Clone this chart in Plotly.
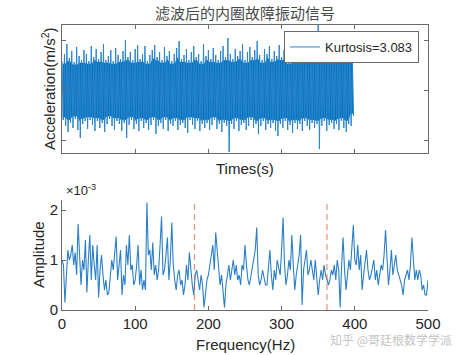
import plotly.graph_objects as go

# ---------------- data ----------------
# Top: filtered inner-race fault vibration signal, read as an envelope
# (upper peak / lower trough per short time slice), 0..4 s
sig_upper = [
    2.9, 3.6, 4.6, 3.2, 3.9, 2.8, 4.3, 3.4, 3.0, 4.0,
    3.6, 2.9, 4.4, 3.3, 4.1, 3.1, 3.8, 4.6, 3.0, 3.4,
    4.0, 2.9, 4.2, 3.5, 3.1, 3.9, 5.0, 3.3, 3.8, 3.0,
    4.1, 4.5, 3.1, 3.6, 4.4, 2.9, 3.5, 4.0, 4.5, 3.3,
    3.8, 3.0, 4.3, 3.4, 3.9, 2.9, 3.6, 4.2, 4.9, 3.1,
    3.5, 4.1, 3.0, 3.8, 4.4, 3.3, 3.6, 2.9, 4.6, 3.4,
    4.0, 3.1, 4.2, 3.5, 3.0, 3.9, 4.4, 3.3, 5.2, 3.6,
    3.1, 4.1, 3.4, 3.9, 4.6, 3.0, 3.8, 4.3, 3.3, 4.0,
    4.9, 3.5, 3.0, 4.1, 3.6, 4.4, 3.1, 3.9, 3.4, 4.5,
    3.3, 4.0, 3.6, 2.9, 4.2, 3.4, 3.9, 4.3, 3.1, 3.8,
    4.1, 3.3, 4.4, 3.6, 3.4, 6.6, 3.8, 3.1, 4.2, 3.5,
    4.0, 3.3, 3.9, 4.2, 3.4, 4.1, 3.6, 3.3, 4.0, 3.0,
]
sig_lower = [
    -3.0, -3.6, -4.2, -3.3, -3.8, -2.9, -4.0, -4.8, -3.4, -3.1,
    -3.9, -3.0, -3.5, -4.1, -3.1, -3.8, -3.3, -4.2, -3.4, -2.9,
    -3.6, -4.0, -3.1, -3.4, -4.1, -3.3, -4.8, -3.5, -3.0, -3.9,
    -3.4, -4.1, -3.1, -3.8, -3.3, -4.0, -3.5, -3.0, -4.4, -3.6,
    -3.3, -3.9, -3.0, -4.1, -3.4, -3.6, -3.1, -4.0, -3.5, -3.3,
    -3.8, -4.3, -3.0, -3.5, -3.9, -3.1, -4.1, -3.4, -3.8, -3.3,
    -4.0, -3.5, -3.0, -3.9, -3.4, -4.2, -3.3, -3.6, -6.2, -3.4,
    -3.9, -3.1, -4.1, -3.5, -3.3, -4.0, -3.6, -3.0, -3.8, -3.4,
    -4.4, -3.6, -3.1, -4.0, -3.4, -3.8, -3.3, -4.1, -4.6, -3.4,
    -3.8, -3.1, -4.0, -3.5, -4.3, -3.3, -3.9, -3.4, -4.1, -3.1,
    -3.6, -4.0, -3.3, -3.8, -3.4, -5.9, -3.6, -3.1, -4.1, -3.5,
    -3.3, -3.9, -3.4, -4.0, -3.1, -3.8, -4.2, -3.4, -3.6, -2.6,
]
sig_duration = 4.0          # seconds of signal shown
kurtosis_label = "Kurtosis=3.083"

# Bottom: envelope spectrum amplitude (x 1e-3), 0..500 Hz every 2 Hz
amp_e3 = [
    1.0, 0.9, 0.15, 0.8, 1.2, 1.0, 1.1, 1.3, 0.9, 1.15,
    0.7, 1.72, 0.9, 0.5, 1.0, 0.8, 1.4, 0.35, 1.0, 1.5,
    0.6, 1.3, 0.9, 0.6, 1.3, 0.25, 0.8, 1.1, 0.7, 0.4,
    0.6, 0.3, 0.35, 0.7, 1.0, 0.8, 1.1, 1.47, 0.6, 1.0,
    1.2, 0.3, 0.7, 0.5, 1.3, 0.9, 1.5, 0.8, 0.9, 0.5,
    0.6, 0.9, 1.3, 0.5, 0.8, 0.4, 0.6, 0.4, 2.15, 1.1,
    1.2, 0.8, 1.35, 0.7, 0.9, 0.6, 0.8, 1.3, 1.87, 0.7,
    0.8, 1.1, 1.45, 0.6, 1.0, 1.75, 0.9, 0.6, 0.4, 0.7,
    0.8, 0.5, 0.6, 0.3, 0.5, 0.9, 0.6, 1.15, 0.8, 0.5,
    0.3, 0.7, 0.8, 0.6, 0.4, 0.7, 0.5, 0.05, 0.4, 0.6,
    0.7, 0.9, 1.0, 1.3, 0.8, 1.55, 1.2, 0.8, 0.5, 0.7,
    0.3, 0.05, 0.5, 0.7, 0.9, 0.6, 0.8, 1.0, 0.7, 0.9,
    0.6, 0.7, 0.5, 0.9, 0.8, 1.3, 0.9, 0.6, 0.5, 0.7,
    0.8, 1.0, 1.2, 1.65, 0.7, 0.5, 0.6, 0.8, 0.6, 0.5,
    0.5, 0.8, 1.2, 0.7, 0.4, 0.8, 0.6, 1.0, 0.8, 0.7,
    1.2, 1.85, 0.9, 0.5, 0.7, 1.0, 0.8, 1.5, 0.9, 0.4,
    0.7, 0.9, 1.1, 1.5, 0.1, 0.8, 1.0, 1.2, 0.7, 0.8,
    1.0, 0.8, 0.6, 1.0, 0.7, 0.3, 0.6, 0.8, 0.6, 0.9,
    0.7, 0.6, 0.5, 0.6, 0.8, 0.7, 0.9, 0.6, 1.0, 0.8,
    0.05, 0.9, 1.45, 0.8, 0.4, 0.7, 1.0, 0.8, 1.3, 1.7,
    1.0, 0.9, 1.3, 0.8, 1.1, 0.4, 0.7, 0.9, 1.2, 0.8,
    0.6, 0.7, 0.9, 1.0, 0.6, 0.8, 0.5, 0.7, 0.9, 0.8,
    1.1, 1.6, 0.9, 0.5, 0.8, 1.2, 0.7, 0.9, 1.1, 0.8,
    0.7, 0.6, 0.5, 0.3, 0.6, 0.7, 0.8, 0.6, 0.9, 1.45,
    0.9, 0.6, 0.8, 0.6, 0.8, 0.7, 0.4, 0.5, 0.3, 0.3,
    0.6,
]
freq_step = 2.0
fault_freqs = [181, 362]      # BPFI and 2x BPFI (dashed markers)
freq_ticks = [0, 100, 200, 300, 400, 500]
amp_ticks = [0, 1, 2]

# ---------------- build traces ----------------
n = len(sig_upper)
dt = sig_duration / n
t_vals, a_vals = [], []
for i in range(n):
    t_vals += [i * dt, i * dt + dt / 2]
    a_vals += [sig_upper[i], sig_lower[i]]

# dense core of the band: the smaller of neighbouring peaks (drawn as a fill)
core_t, core_up, core_lo = [], [], []
for i in range(n):
    nb = range(max(0, i - 1), min(n, i + 2))
    core_t.append(i * dt + dt / 4)
    core_up.append(0.9 * min(sig_upper[j] for j in nb))
    core_lo.append(0.9 * max(sig_lower[j] for j in nb))

freqs = [i * freq_step for i in range(len(amp_e3))]

BLUE = "#0072BD"
SPIKE = "#2a84cc"
AXC = "#6b6b6b"
TXT = "#262626"
FONT = "Liberation Sans, Arial, sans-serif"

fig = go.Figure()
fig.add_trace(go.Scatter(x=core_t, y=core_up, mode="lines",
                         line=dict(color=BLUE, width=0.5),
                         showlegend=False, hoverinfo="skip",
                         xaxis="x", yaxis="y"))
fig.add_trace(go.Scatter(x=core_t, y=core_lo, mode="lines",
                         line=dict(color=BLUE, width=0.5), fill="tonexty",
                         fillcolor=BLUE, showlegend=False, hoverinfo="skip",
                         xaxis="x", yaxis="y"))
fig.add_trace(go.Scatter(x=t_vals, y=a_vals, mode="lines",
                         line=dict(color=SPIKE, width=1),
                         name=kurtosis_label, xaxis="x", yaxis="y"))
fig.add_trace(go.Scatter(x=freqs, y=amp_e3, mode="lines",
                         line=dict(color="#2b7fc8", width=1.1),
                         showlegend=False, xaxis="x2", yaxis="y2"))
for f in fault_freqs:
    fig.add_trace(go.Scatter(x=[f, f], y=[0, 2.2], mode="lines",
                             line=dict(color="#D95319", width=1.2, dash="6px,4px"),
                             opacity=0.6, showlegend=False,
                             xaxis="x2", yaxis="y2"))

W, H = 474, 355
xd = [62 / W, 428 / W]

common = dict(ticks="inside", ticklen=4, tickcolor=AXC, showline=True,
              linecolor=AXC, linewidth=1, showgrid=False, zeroline=False,
              automargin=False)

fig.update_layout(
    width=W, height=H,
    margin=dict(l=0, r=0, t=0, b=0, autoexpand=False),
    paper_bgcolor="white", plot_bgcolor="white",
    font=dict(family=FONT, size=15, color=TXT),
    showlegend=True,
    legend=dict(x=419 / W, y=1 - 31 / H, xanchor="right", yanchor="top",
                bgcolor="white", bordercolor=AXC, borderwidth=1,
                font=dict(size=13, color=TXT, family=FONT),
                itemwidth=30, tracegroupgap=0),
    xaxis=dict(domain=xd, anchor="y", range=[0, 5], tickvals=[0, 1, 2, 3, 4, 5],
               showticklabels=False, mirror="ticks", **common),
    yaxis=dict(domain=[1 - 153 / H, 1 - 25 / H], anchor="x", range=[-6.3, 6.5],
               tickvals=[-5, 0, 5], showticklabels=False, mirror="ticks",
               **common),
    xaxis2=dict(domain=xd, anchor="y2", range=[0, 500], tickvals=freq_ticks,
                tickfont=dict(size=15, color=TXT), **common),
    yaxis2=dict(domain=[1 - 310 / H, 1 - 200 / H], anchor="x2", range=[0, 2.2],
                tickvals=amp_ticks, tickfont=dict(size=15, color=TXT), **common),
)

ann = [
    dict(text="滤波后的内圈故障振动信号", x=245 / W, y=1 - 13 / H,
         font=dict(family="Noto Sans CJK SC", size=15, color="#4a4a4a")),
    dict(text="Acceleration(m/s<sup>2</sup>)", x=48 / W, y=1 - 89 / H,
         textangle=-90, font=dict(size=15, color=TXT)),
    dict(text="Times(s)", x=245 / W, y=1 - 168 / H, font=dict(size=15, color=TXT)),
    dict(text="Amplitude", x=38 / W, y=1 - 255 / H, textangle=-90,
         font=dict(size=15, color=TXT)),
    dict(text="Frequency(Hz)", x=245 / W, y=1 - 344 / H,
         font=dict(size=15, color=TXT)),
    dict(text="×10<sup>-3</sup>", x=64 / W, y=1 - 190 / H, xanchor="left",
         font=dict(size=13, color=TXT)),
    dict(text="知乎 @哥廷根数学学派", x=391 / W, y=1 - 339 / H,
         font=dict(family="Noto Sans CJK SC", size=12, color="#c4c4c4")),
]
for a in ann:
    a.setdefault("xanchor", "center")
    a.update(xref="paper", yref="paper", yanchor="middle", showarrow=False)
fig.update_layout(annotations=ann)

fig.write_html("out.html")
